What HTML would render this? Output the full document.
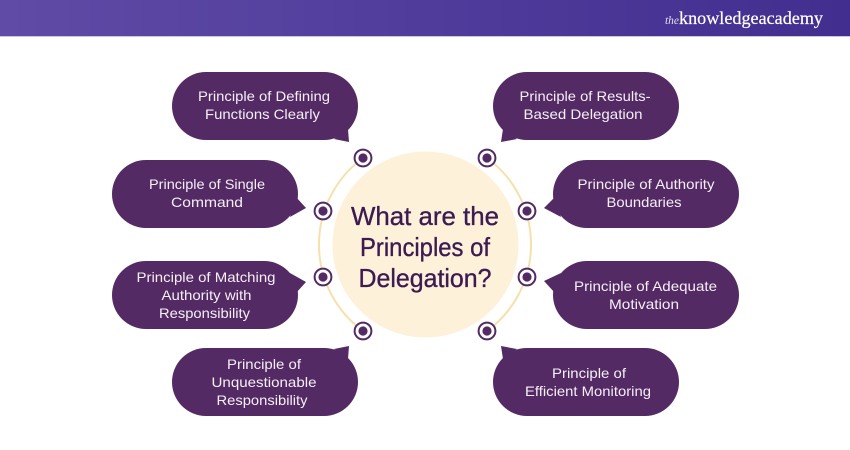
<!DOCTYPE html>
<html><head><meta charset="utf-8"><style>
html,body{margin:0;padding:0;background:#fff;width:850px;height:450px;overflow:hidden}
svg{display:block}
.t{font:14px "Liberation Sans",sans-serif;fill:#f6eff7;text-anchor:middle}
.h{font:26px "Liberation Sans",sans-serif;fill:#3c1a52;text-anchor:middle;stroke:#3c1a52;stroke-width:.35}
</style></head><body>
<svg width="850" height="450" viewBox="0 0 850 450" xmlns="http://www.w3.org/2000/svg">
<defs><linearGradient id="g" x1="0" x2="1" y1="0" y2="0"><stop offset="0" stop-color="#604ca6"/><stop offset=".5" stop-color="#503c9b"/><stop offset="1" stop-color="#422e8e"/></linearGradient></defs>
<rect width="850" height="36" fill="url(#g)"/>
<rect y="36" width="850" height="1" fill="#c9c5dc"/>
<text x="665" y="24" font-family="Liberation Serif,serif" font-size="12" font-style="italic" fill="#e4def2" textLength="14" lengthAdjust="spacingAndGlyphs">the</text>
<text x="679" y="24" font-family="Liberation Serif,serif" font-size="18" stroke="#fff" stroke-width=".2" fill="#fff" textLength="144" lengthAdjust="spacingAndGlyphs">knowledgeacademy</text>

<circle cx="425.5" cy="244.5" r="93" fill="#fdf1d9"/>
<path d="M363 158A107 107 0 0 0 363 331M487 158A107 107 0 0 1 487 331" fill="none" stroke="#f6e0ac" stroke-width="2"/>

<g fill="#532a63">
<rect x="172" y="72" width="186" height="68" rx="34"/><path d="M348 129L349 142L334 139Z"/>
<rect x="112" y="160" width="186" height="68" rx="34"/><path d="M296 197L306 208L290 217Z"/>
<rect x="112" y="261" width="186" height="68" rx="34"/><path d="M290 273L306 282L296 293Z"/>
<rect x="172" y="348" width="186" height="68" rx="34"/><path d="M334 349L349 346L348 359Z"/>
<rect x="493" y="72" width="186" height="68" rx="34"/><path d="M503 129L501 142L517 139Z"/>
<rect x="553" y="160" width="186" height="68" rx="34"/><path d="M555 197L544 208L561 217Z"/>
<rect x="553" y="261" width="186" height="68" rx="34"/><path d="M561 273L544 281L555 293Z"/>
<rect x="493" y="348" width="186" height="68" rx="34"/><path d="M517 349L501 346L503 359Z"/>
</g>

<g fill="#fff" stroke="#532a63" stroke-width="2">
<circle cx="363" cy="158" r="8.4"/><circle cx="323" cy="211" r="8.4"/><circle cx="323" cy="277" r="8.4"/><circle cx="363" cy="331" r="8.4"/>
<circle cx="487" cy="158" r="8.4"/><circle cx="527" cy="211" r="8.4"/><circle cx="527" cy="277" r="8.4"/><circle cx="487" cy="331" r="8.4"/>
</g>
<g fill="#532a63">
<circle cx="363" cy="158" r="4.6"/><circle cx="323" cy="211" r="4.6"/><circle cx="323" cy="277" r="4.6"/><circle cx="363" cy="331" r="4.6"/>
<circle cx="487" cy="158" r="4.6"/><circle cx="527" cy="211" r="4.6"/><circle cx="527" cy="277" r="4.6"/><circle cx="487" cy="331" r="4.6"/>
</g>

<text class="h" x="425" y="225" textLength="148" lengthAdjust="spacingAndGlyphs">What are the</text>
<text class="h" x="425" y="256" textLength="130" lengthAdjust="spacingAndGlyphs">Principles of</text>
<text class="h" x="425" y="287" textLength="133" lengthAdjust="spacingAndGlyphs">Delegation?</text>

<text class="t" x="264" y="101" textLength="132" lengthAdjust="spacingAndGlyphs">Principle of Defining</text>
<text class="t" x="262.5" y="119" textLength="115" lengthAdjust="spacingAndGlyphs">Functions Clearly</text>
<text class="t" x="207" y="189" textLength="116" lengthAdjust="spacingAndGlyphs">Principle of Single</text>
<text class="t" x="207" y="207" textLength="72" lengthAdjust="spacingAndGlyphs">Command</text>
<text class="t" x="206" y="282" textLength="139" lengthAdjust="spacingAndGlyphs">Principle of Matching</text>
<text class="t" x="206.5" y="300" textLength="90" lengthAdjust="spacingAndGlyphs">Authority with</text>
<text class="t" x="204.5" y="318" textLength="91" lengthAdjust="spacingAndGlyphs">Responsibility</text>
<text class="t" x="264" y="369" textLength="74" lengthAdjust="spacingAndGlyphs">Principle of</text>
<text class="t" x="264" y="387" textLength="105" lengthAdjust="spacingAndGlyphs">Unquestionable</text>
<text class="t" x="262" y="405" textLength="91" lengthAdjust="spacingAndGlyphs">Responsibility</text>

<text class="t" x="585" y="101" textLength="131" lengthAdjust="spacingAndGlyphs">Principle of Results-</text>
<text class="t" x="583" y="119" textLength="119" lengthAdjust="spacingAndGlyphs">Based Delegation</text>
<text class="t" x="646" y="189" textLength="137" lengthAdjust="spacingAndGlyphs">Principle of Authority</text>
<text class="t" x="644" y="207" textLength="75" lengthAdjust="spacingAndGlyphs">Boundaries</text>
<text class="t" x="645.5" y="291" textLength="143" lengthAdjust="spacingAndGlyphs">Principle of Adequate</text>
<text class="t" x="644" y="309" textLength="70" lengthAdjust="spacingAndGlyphs">Motivation</text>
<text class="t" x="589" y="378" textLength="74" lengthAdjust="spacingAndGlyphs">Principle of</text>
<text class="t" x="588" y="396" textLength="126" lengthAdjust="spacingAndGlyphs">Efficient Monitoring</text>
</svg>
</body></html>
